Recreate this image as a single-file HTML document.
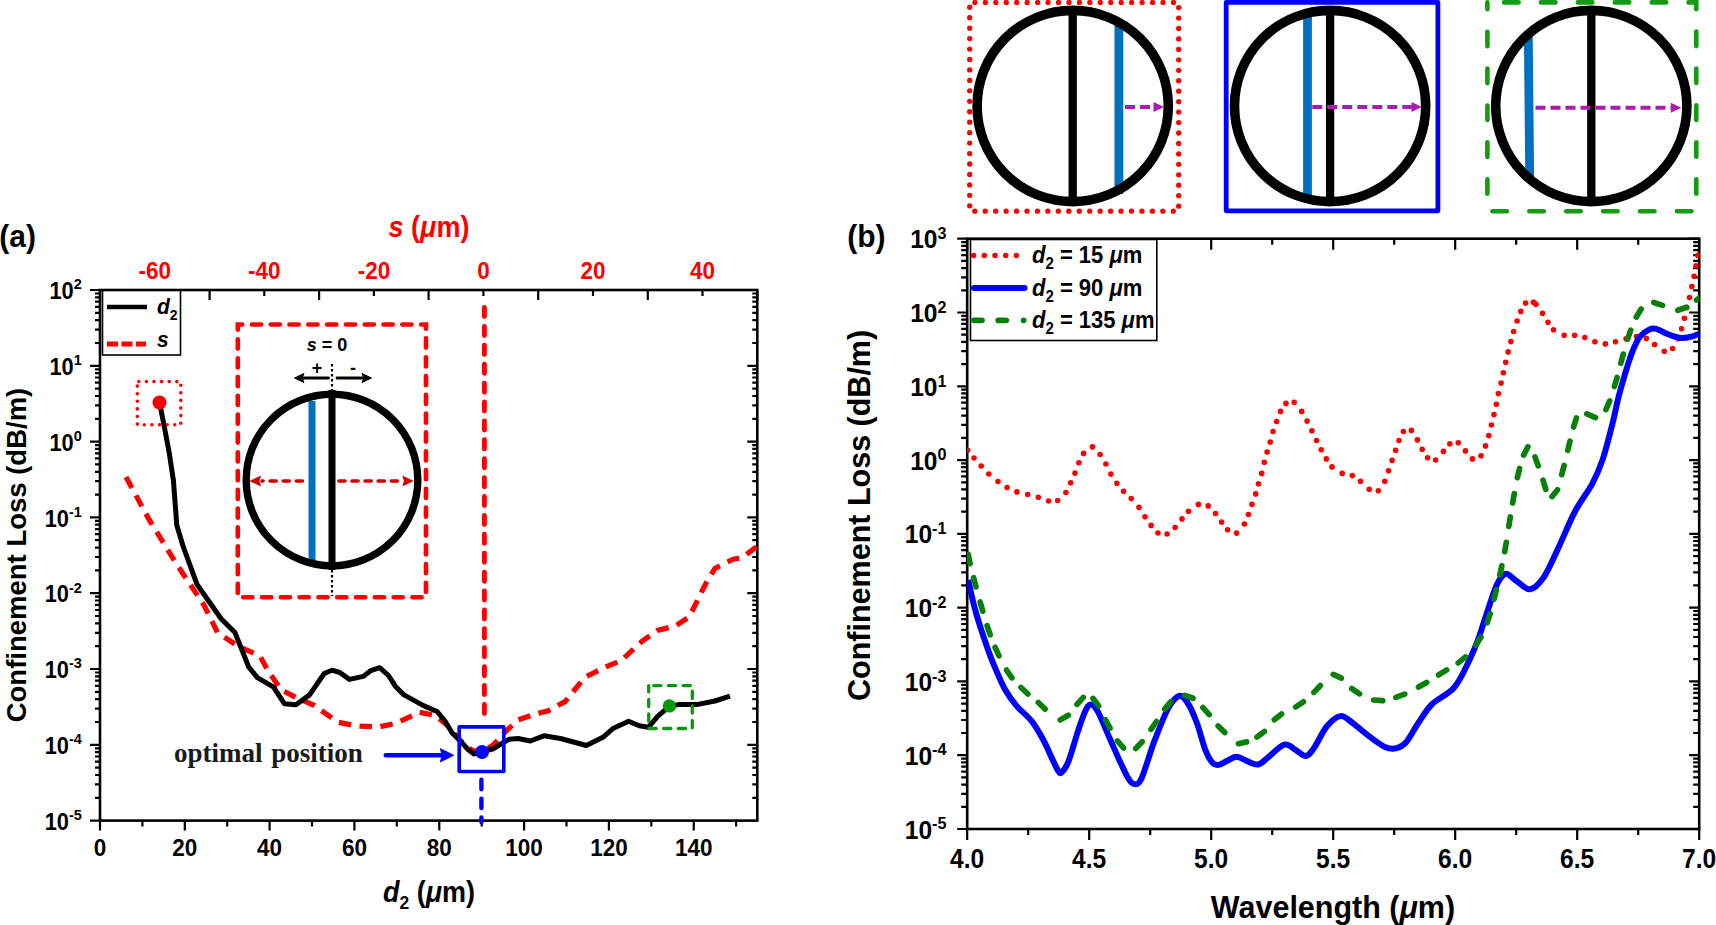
<!DOCTYPE html>
<html><head><meta charset="utf-8"><title>Confinement loss figure</title>
<style>html,body{margin:0;padding:0;background:#fff;width:1716px;height:925px;overflow:hidden}svg{display:block}</style>
</head><body>
<svg width="1716" height="925" viewBox="0 0 1716 925"><rect x="100" y="290" width="657.3" height="530.6" fill="none" stroke="#000" stroke-width="2.6"/>
<path d="M90,290 H100 M95,343 H100 M95,329.6 H100 M95,320.2 H100 M95,312.8 H100 M95,306.8 H100 M95,301.7 H100 M95,297.3 H100 M95,293.5 H100 M90,365.8 H100 M95,418.8 H100 M95,405.4 H100 M95,396 H100 M95,388.6 H100 M95,382.6 H100 M95,377.5 H100 M95,373.1 H100 M95,369.3 H100 M90,441.6 H100 M95,494.6 H100 M95,481.2 H100 M95,471.8 H100 M95,464.4 H100 M95,458.4 H100 M95,453.3 H100 M95,448.9 H100 M95,445.1 H100 M90,517.4 H100 M95,570.4 H100 M95,557 H100 M95,547.6 H100 M95,540.2 H100 M95,534.2 H100 M95,529.1 H100 M95,524.7 H100 M95,520.9 H100 M90,593.2 H100 M95,646.2 H100 M95,632.8 H100 M95,623.4 H100 M95,616 H100 M95,610 H100 M95,604.9 H100 M95,600.5 H100 M95,596.7 H100 M90,669 H100 M95,722 H100 M95,708.6 H100 M95,699.2 H100 M95,691.8 H100 M95,685.8 H100 M95,680.7 H100 M95,676.3 H100 M95,672.5 H100 M90,744.8 H100 M95,797.8 H100 M95,784.4 H100 M95,775 H100 M95,767.6 H100 M95,761.6 H100 M95,756.5 H100 M95,752.1 H100 M95,748.3 H100 M90,820.6 H100 M747.3,290 H757.3 M752.3,343 H757.3 M752.3,329.6 H757.3 M752.3,320.2 H757.3 M752.3,312.8 H757.3 M752.3,306.8 H757.3 M752.3,301.7 H757.3 M752.3,297.3 H757.3 M752.3,293.5 H757.3 M747.3,365.8 H757.3 M752.3,418.8 H757.3 M752.3,405.4 H757.3 M752.3,396 H757.3 M752.3,388.6 H757.3 M752.3,382.6 H757.3 M752.3,377.5 H757.3 M752.3,373.1 H757.3 M752.3,369.3 H757.3 M747.3,441.6 H757.3 M752.3,494.6 H757.3 M752.3,481.2 H757.3 M752.3,471.8 H757.3 M752.3,464.4 H757.3 M752.3,458.4 H757.3 M752.3,453.3 H757.3 M752.3,448.9 H757.3 M752.3,445.1 H757.3 M747.3,517.4 H757.3 M752.3,570.4 H757.3 M752.3,557 H757.3 M752.3,547.6 H757.3 M752.3,540.2 H757.3 M752.3,534.2 H757.3 M752.3,529.1 H757.3 M752.3,524.7 H757.3 M752.3,520.9 H757.3 M747.3,593.2 H757.3 M752.3,646.2 H757.3 M752.3,632.8 H757.3 M752.3,623.4 H757.3 M752.3,616 H757.3 M752.3,610 H757.3 M752.3,604.9 H757.3 M752.3,600.5 H757.3 M752.3,596.7 H757.3 M747.3,669 H757.3 M752.3,722 H757.3 M752.3,708.6 H757.3 M752.3,699.2 H757.3 M752.3,691.8 H757.3 M752.3,685.8 H757.3 M752.3,680.7 H757.3 M752.3,676.3 H757.3 M752.3,672.5 H757.3 M747.3,744.8 H757.3 M752.3,797.8 H757.3 M752.3,784.4 H757.3 M752.3,775 H757.3 M752.3,767.6 H757.3 M752.3,761.6 H757.3 M752.3,756.5 H757.3 M752.3,752.1 H757.3 M752.3,748.3 H757.3 M100,820.6 V830.6 M142.4,820.6 V826.6 M184.8,820.6 V830.6 M227.2,820.6 V826.6 M269.6,820.6 V830.6 M312,820.6 V826.6 M354.4,820.6 V830.6 M396.8,820.6 V826.6 M439.3,820.6 V830.6 M481.7,820.6 V826.6 M524.1,820.6 V830.6 M566.5,820.6 V826.6 M608.9,820.6 V830.6 M651.3,820.6 V826.6 M693.7,820.6 V830.6 M736.1,820.6 V826.6 M100,290 V300 M154.8,290 V296 M209.6,290 V300 M264.3,290 V296 M319.1,290 V300 M373.9,290 V296 M428.6,290 V300 M483.4,290 V296 M538.2,290 V300 M593,290 V296 M647.8,290 V300 M702.5,290 V296 M757.3,290 V300" stroke="#000" stroke-width="2.2" fill="none"/>
<text transform="translate(81.8,299.1) scale(1,1.07)" font-family="Liberation Sans, sans-serif" font-weight="bold" font-size="21.8" text-anchor="end">10<tspan font-size="14.5" dy="-9">2</tspan></text>
<text transform="translate(81.8,374.9) scale(1,1.07)" font-family="Liberation Sans, sans-serif" font-weight="bold" font-size="21.8" text-anchor="end">10<tspan font-size="14.5" dy="-9">1</tspan></text>
<text transform="translate(81.8,450.7) scale(1,1.07)" font-family="Liberation Sans, sans-serif" font-weight="bold" font-size="21.8" text-anchor="end">10<tspan font-size="14.5" dy="-9">0</tspan></text>
<text transform="translate(81.8,526.5) scale(1,1.07)" font-family="Liberation Sans, sans-serif" font-weight="bold" font-size="21.8" text-anchor="end">10<tspan font-size="14.5" dy="-9">-1</tspan></text>
<text transform="translate(81.8,602.3) scale(1,1.07)" font-family="Liberation Sans, sans-serif" font-weight="bold" font-size="21.8" text-anchor="end">10<tspan font-size="14.5" dy="-9">-2</tspan></text>
<text transform="translate(81.8,678.1) scale(1,1.07)" font-family="Liberation Sans, sans-serif" font-weight="bold" font-size="21.8" text-anchor="end">10<tspan font-size="14.5" dy="-9">-3</tspan></text>
<text transform="translate(81.8,753.9) scale(1,1.07)" font-family="Liberation Sans, sans-serif" font-weight="bold" font-size="21.8" text-anchor="end">10<tspan font-size="14.5" dy="-9">-4</tspan></text>
<text transform="translate(81.8,829.7) scale(1,1.07)" font-family="Liberation Sans, sans-serif" font-weight="bold" font-size="21.8" text-anchor="end">10<tspan font-size="14.5" dy="-9">-5</tspan></text>
<text transform="translate(100,856.2) scale(1,1.07)" font-family="Liberation Sans, sans-serif" font-weight="bold" font-size="22.5" text-anchor="middle">0</text>
<text transform="translate(184.8,856.2) scale(1,1.07)" font-family="Liberation Sans, sans-serif" font-weight="bold" font-size="22.5" text-anchor="middle">20</text>
<text transform="translate(269.6,856.2) scale(1,1.07)" font-family="Liberation Sans, sans-serif" font-weight="bold" font-size="22.5" text-anchor="middle">40</text>
<text transform="translate(354.4,856.2) scale(1,1.07)" font-family="Liberation Sans, sans-serif" font-weight="bold" font-size="22.5" text-anchor="middle">60</text>
<text transform="translate(439.3,856.2) scale(1,1.07)" font-family="Liberation Sans, sans-serif" font-weight="bold" font-size="22.5" text-anchor="middle">80</text>
<text transform="translate(524.1,856.2) scale(1,1.07)" font-family="Liberation Sans, sans-serif" font-weight="bold" font-size="22.5" text-anchor="middle">100</text>
<text transform="translate(608.9,856.2) scale(1,1.07)" font-family="Liberation Sans, sans-serif" font-weight="bold" font-size="22.5" text-anchor="middle">120</text>
<text transform="translate(693.7,856.2) scale(1,1.07)" font-family="Liberation Sans, sans-serif" font-weight="bold" font-size="22.5" text-anchor="middle">140</text>
<text transform="translate(154.8,279.2) scale(1,1.07)" font-family="Liberation Sans, sans-serif" font-weight="bold" font-size="22.5" text-anchor="middle" fill="#f00">-60</text>
<text transform="translate(264.3,279.2) scale(1,1.07)" font-family="Liberation Sans, sans-serif" font-weight="bold" font-size="22.5" text-anchor="middle" fill="#f00">-40</text>
<text transform="translate(373.9,279.2) scale(1,1.07)" font-family="Liberation Sans, sans-serif" font-weight="bold" font-size="22.5" text-anchor="middle" fill="#f00">-20</text>
<text transform="translate(483.4,279.2) scale(1,1.07)" font-family="Liberation Sans, sans-serif" font-weight="bold" font-size="22.5" text-anchor="middle" fill="#f00">0</text>
<text transform="translate(593,279.2) scale(1,1.07)" font-family="Liberation Sans, sans-serif" font-weight="bold" font-size="22.5" text-anchor="middle" fill="#f00">20</text>
<text transform="translate(702.5,279.2) scale(1,1.07)" font-family="Liberation Sans, sans-serif" font-weight="bold" font-size="22.5" text-anchor="middle" fill="#f00">40</text>
<text transform="translate(36,246.5) scale(1,1.07)" font-family="Liberation Sans, sans-serif" font-weight="bold" font-size="30" text-anchor="end">(a)</text>
<text transform="translate(429,237) scale(1,1.07)" font-family="Liberation Sans, sans-serif" font-weight="bold" font-size="27" text-anchor="middle" fill="#f00"><tspan font-style="italic">s</tspan> (<tspan font-style="italic">&#956;</tspan>m)</text>
<text transform="translate(429,902) scale(1,1.07)" font-family="Liberation Sans, sans-serif" font-weight="bold" font-size="27" text-anchor="middle"><tspan font-style="italic">d</tspan><tspan font-size="17.5" dy="6.5">2</tspan><tspan dy="-6.5"> (</tspan><tspan font-style="italic">&#956;</tspan>m)</text>
<text transform="translate(26,555) rotate(-90)" font-family="Liberation Sans, sans-serif" font-weight="bold" font-size="27.5" text-anchor="middle">Confinement Loss (dB/m)</text>
<defs><clipPath id="ca"><rect x="100" y="290" width="657.3" height="530.6"/></clipPath><clipPath id="cb"><rect x="967" y="238" width="732" height="591"/></clipPath></defs>
<g clip-path="url(#ca)">
<path d="M126,476.9 L148.4,518.4 L176.1,563.4 L203.8,604.9 L217.6,632.6 L238.4,646.4 L260,656 L267.8,670.6 L281.4,690.1 L297,697.9 L314.5,705.6 L337.9,722.2 L357.3,726.1 L378.7,727 L396.2,723.2 L419.6,712.4 L435.2,715.4 L446.8,725.1 L460.5,740.7 L472.1,750.4 L481.9,752.3 L493.6,744.6 L505.2,731.9 L518.2,719.8 L536.3,713.7 L548.4,710.7 L565.1,701.6 L584.7,677.4 L605.9,666.8 L621.1,660.7 L642.3,641.1 L657.4,630.5 L675.5,625.9 L689.2,616.9 L705.8,583.6 L714.9,568.4 L733,559.3 L742.1,557.8 L760,544.2" stroke="#f00" stroke-width="5.2" fill="none" stroke-dasharray="12.5 8.5"/>
<path d="M159.5,402.5 L164,425 L169.2,452.7 L173.4,480.3 L176.8,525.3 L183,546 L196.9,584.2 L221.1,618.8 L235,632.6 L248.8,667.2 L257.4,677.6 L273.6,687.1 L284.3,703.7 L296,704.7 L309.6,694.9 L324.2,673.5 L332,670.2 L339.8,672.5 L349.5,679.4 L363.2,676.4 L370.9,670.6 L379.7,667.7 L388.5,675.5 L395.3,686.2 L404,694.9 L423.5,705.6 L437.1,711.5 L445,721 L452.2,733 L461,741.7 L468,749.5 L474,754 L481.5,751.5 L492.7,749 L508.9,739.3 L518.2,738.5 L530.3,741 L543.9,735.8 L560.5,738.5 L586.3,745.5 L602.9,737.3 L613.5,728.2 L628.6,721.3 L639.2,725.8 L648.3,727.3 L657.4,716.7 L669.5,706.1 L678.6,704.6 L696.7,704.6 L714.9,701 L730,696.2" stroke="#000" stroke-width="5" fill="none" stroke-linejoin="round"/>
</g>
<path d="M484.4,307.5 V716" stroke="#f00" stroke-width="4.9" stroke-dasharray="9.1 9.8" stroke-linecap="round"/>
<path d="M481.4,779.8 V822" stroke="#00f" stroke-width="4.4" stroke-dasharray="9.5 9.3" stroke-linecap="round"/>
<circle cx="159.5" cy="402.5" r="7" fill="#f00"/>
<rect x="137.3" y="381.6" width="43.5" height="43.1" fill="none" stroke="#f00" stroke-width="3.6" stroke-dasharray="0 7.6" stroke-dashoffset="-1.5" stroke-linecap="round"/>
<circle cx="482" cy="752" r="7" fill="#00f"/>
<rect x="459.2" y="726.9" width="44.6" height="44.6" fill="none" stroke="#00f" stroke-width="3.6" stroke-linejoin="round"/>
<circle cx="669.4" cy="705.9" r="6.7" fill="#0c980c"/>
<rect x="648.7" y="685.6" width="43.6" height="42.9" fill="none" stroke="#0c980c" stroke-width="3.3" stroke-dasharray="7.3 7.4" stroke-dashoffset="-5" stroke-linecap="round"/>
<path d="M385.8,755.3 H443" stroke="#00f" stroke-width="4.5" stroke-linecap="round"/>
<path d="M453.8,755.3 L440.3,748.6 L442,755.3 L440.3,762 Z" fill="#00f" stroke="#00f" stroke-width="0.8" stroke-linejoin="round"/>
<text transform="translate(174,762.2)" font-family="Liberation Serif, serif" font-weight="bold" font-size="27" fill="#1a1a1a" word-spacing="2">optimal position</text>
<rect x="102.5" y="290.5" width="78" height="64.5" fill="#fff" stroke="#000" stroke-width="1.6"/>
<path d="M107,307 H147" stroke="#000" stroke-width="4.5"/>
<path d="M107,344 H146" stroke="#f00" stroke-width="5" stroke-dasharray="11 3.5"/>
<text transform="translate(157,314) scale(1,1.07)" font-family="Liberation Sans, sans-serif" font-weight="bold" font-size="21"><tspan font-style="italic">d</tspan><tspan font-size="14" dy="6">2</tspan></text>
<text transform="translate(157,347) scale(1,1.07)" font-family="Liberation Sans, sans-serif" font-weight="bold" font-size="21" font-style="italic">s</text>
<rect x="237.8" y="324.5" width="188.2" height="272.7" fill="none" stroke="#f00" stroke-width="4.6" stroke-dasharray="9.2 9.6" stroke-dashoffset="4.7" stroke-linecap="round"/>
<path d="M312,401 V560" stroke="#0070c0" stroke-width="7"/>
<path d="M332,390 V570" stroke="#000" stroke-width="7"/>
<circle cx="332" cy="480" r="85.8" fill="none" stroke="#000" stroke-width="7.4"/>
<path d="M332,364 V391 M332,570 V596" stroke="#000" stroke-width="2.2" stroke-dasharray="2.5 2.5"/>
<text transform="translate(327,351) scale(1,1.07)" font-family="Liberation Sans, sans-serif" font-weight="bold" font-size="18" text-anchor="middle"><tspan font-style="italic">s</tspan> = 0</text>
<text transform="translate(317,374) scale(1,1.07)" font-family="Liberation Sans, sans-serif" font-weight="bold" font-size="18" text-anchor="middle">+</text>
<text transform="translate(353,374) scale(1,1.07)" font-family="Liberation Sans, sans-serif" font-weight="bold" font-size="18" text-anchor="middle">-</text>
<path d="M328.5,378 H300 M337,378 H366" stroke="#000" stroke-width="2.8" stroke-linecap="round"/>
<path d="M294.5,378 L304,373.5 L302,378 L304,382.5 Z M371.5,378 L362,373.5 L364,378 L362,382.5 Z" fill="#000" stroke="#000" stroke-width="1" stroke-linejoin="round"/>
<path d="M302.4,481 H262 M338.9,481 H402" stroke="#cc0000" stroke-width="3.6" stroke-dasharray="6.1 7" stroke-linecap="round"/>
<path d="M250.3,481 L260.5,476.2 L259,481 L260.5,485.8 Z M412.9,481 L402.9,476.2 L404.4,481 L402.9,485.8 Z" fill="#cc0000" stroke="#cc0000" stroke-width="0.8" stroke-linejoin="round"/>
<rect x="967.2" y="238.7" width="732" height="590.3" fill="none" stroke="#000" stroke-width="2.6"/>
<path d="M957.2,238.7 H967.2 M1689.2,238.7 H1699.2 M961.2,290.3 H967.2 M1693.2,290.3 H1699.2 M961.2,277.3 H967.2 M1693.2,277.3 H1699.2 M961.2,268.1 H967.2 M1693.2,268.1 H1699.2 M961.2,260.9 H967.2 M1693.2,260.9 H1699.2 M961.2,255.1 H967.2 M1693.2,255.1 H1699.2 M961.2,250.1 H967.2 M1693.2,250.1 H1699.2 M961.2,245.9 H967.2 M1693.2,245.9 H1699.2 M961.2,242.1 H967.2 M1693.2,242.1 H1699.2 M957.2,312.5 H967.2 M1689.2,312.5 H1699.2 M961.2,364.1 H967.2 M1693.2,364.1 H1699.2 M961.2,351.1 H967.2 M1693.2,351.1 H1699.2 M961.2,341.9 H967.2 M1693.2,341.9 H1699.2 M961.2,334.7 H967.2 M1693.2,334.7 H1699.2 M961.2,328.9 H967.2 M1693.2,328.9 H1699.2 M961.2,323.9 H967.2 M1693.2,323.9 H1699.2 M961.2,319.6 H967.2 M1693.2,319.6 H1699.2 M961.2,315.9 H967.2 M1693.2,315.9 H1699.2 M957.2,386.3 H967.2 M1689.2,386.3 H1699.2 M961.2,437.9 H967.2 M1693.2,437.9 H1699.2 M961.2,424.9 H967.2 M1693.2,424.9 H1699.2 M961.2,415.6 H967.2 M1693.2,415.6 H1699.2 M961.2,408.5 H967.2 M1693.2,408.5 H1699.2 M961.2,402.6 H967.2 M1693.2,402.6 H1699.2 M961.2,397.7 H967.2 M1693.2,397.7 H1699.2 M961.2,393.4 H967.2 M1693.2,393.4 H1699.2 M961.2,389.7 H967.2 M1693.2,389.7 H1699.2 M957.2,460.1 H967.2 M1689.2,460.1 H1699.2 M961.2,511.6 H967.2 M1693.2,511.6 H1699.2 M961.2,498.6 H967.2 M1693.2,498.6 H1699.2 M961.2,489.4 H967.2 M1693.2,489.4 H1699.2 M961.2,482.3 H967.2 M1693.2,482.3 H1699.2 M961.2,476.4 H967.2 M1693.2,476.4 H1699.2 M961.2,471.5 H967.2 M1693.2,471.5 H1699.2 M961.2,467.2 H967.2 M1693.2,467.2 H1699.2 M961.2,463.4 H967.2 M1693.2,463.4 H1699.2 M957.2,533.8 H967.2 M1689.2,533.8 H1699.2 M961.2,585.4 H967.2 M1693.2,585.4 H1699.2 M961.2,572.4 H967.2 M1693.2,572.4 H1699.2 M961.2,563.2 H967.2 M1693.2,563.2 H1699.2 M961.2,556.1 H967.2 M1693.2,556.1 H1699.2 M961.2,550.2 H967.2 M1693.2,550.2 H1699.2 M961.2,545.3 H967.2 M1693.2,545.3 H1699.2 M961.2,541 H967.2 M1693.2,541 H1699.2 M961.2,537.2 H967.2 M1693.2,537.2 H1699.2 M957.2,607.6 H967.2 M1689.2,607.6 H1699.2 M961.2,659.2 H967.2 M1693.2,659.2 H1699.2 M961.2,646.2 H967.2 M1693.2,646.2 H1699.2 M961.2,637 H967.2 M1693.2,637 H1699.2 M961.2,629.8 H967.2 M1693.2,629.8 H1699.2 M961.2,624 H967.2 M1693.2,624 H1699.2 M961.2,619.1 H967.2 M1693.2,619.1 H1699.2 M961.2,614.8 H967.2 M1693.2,614.8 H1699.2 M961.2,611 H967.2 M1693.2,611 H1699.2 M957.2,681.4 H967.2 M1689.2,681.4 H1699.2 M961.2,733 H967.2 M1693.2,733 H1699.2 M961.2,720 H967.2 M1693.2,720 H1699.2 M961.2,710.8 H967.2 M1693.2,710.8 H1699.2 M961.2,703.6 H967.2 M1693.2,703.6 H1699.2 M961.2,697.8 H967.2 M1693.2,697.8 H1699.2 M961.2,692.9 H967.2 M1693.2,692.9 H1699.2 M961.2,688.6 H967.2 M1693.2,688.6 H1699.2 M961.2,684.8 H967.2 M1693.2,684.8 H1699.2 M957.2,755.2 H967.2 M1689.2,755.2 H1699.2 M961.2,806.8 H967.2 M1693.2,806.8 H1699.2 M961.2,793.8 H967.2 M1693.2,793.8 H1699.2 M961.2,784.6 H967.2 M1693.2,784.6 H1699.2 M961.2,777.4 H967.2 M1693.2,777.4 H1699.2 M961.2,771.6 H967.2 M1693.2,771.6 H1699.2 M961.2,766.6 H967.2 M1693.2,766.6 H1699.2 M961.2,762.4 H967.2 M1693.2,762.4 H1699.2 M961.2,758.6 H967.2 M1693.2,758.6 H1699.2 M957.2,829 H967.2 M967.2,829 V840 M967.2,238.7 V249.7 M1028.2,829 V835 M1028.2,238.7 V244.7 M1089.2,829 V840 M1089.2,238.7 V249.7 M1150.2,829 V835 M1150.2,238.7 V244.7 M1211.2,829 V840 M1211.2,238.7 V249.7 M1272.2,829 V835 M1272.2,238.7 V244.7 M1333.2,829 V840 M1333.2,238.7 V249.7 M1394.2,829 V835 M1394.2,238.7 V244.7 M1455.2,829 V840 M1455.2,238.7 V249.7 M1516.2,829 V835 M1516.2,238.7 V244.7 M1577.2,829 V840 M1577.2,238.7 V249.7 M1638.2,829 V835 M1638.2,238.7 V244.7 M1699.2,829 V840 M1699.2,238.7 V249.7" stroke="#000" stroke-width="2.2" fill="none"/>
<text transform="translate(946.5,248.3) scale(1,1.04)" font-family="Liberation Sans, sans-serif" font-weight="bold" font-size="24.6" text-anchor="end">10<tspan font-size="16.2" dy="-9">3</tspan></text>
<text transform="translate(946.5,322.1) scale(1,1.04)" font-family="Liberation Sans, sans-serif" font-weight="bold" font-size="24.6" text-anchor="end">10<tspan font-size="16.2" dy="-9">2</tspan></text>
<text transform="translate(946.5,395.9) scale(1,1.04)" font-family="Liberation Sans, sans-serif" font-weight="bold" font-size="24.6" text-anchor="end">10<tspan font-size="16.2" dy="-9">1</tspan></text>
<text transform="translate(946.5,469.7) scale(1,1.04)" font-family="Liberation Sans, sans-serif" font-weight="bold" font-size="24.6" text-anchor="end">10<tspan font-size="16.2" dy="-9">0</tspan></text>
<text transform="translate(946.5,543.4) scale(1,1.04)" font-family="Liberation Sans, sans-serif" font-weight="bold" font-size="24.6" text-anchor="end">10<tspan font-size="16.2" dy="-9">-1</tspan></text>
<text transform="translate(946.5,617.2) scale(1,1.04)" font-family="Liberation Sans, sans-serif" font-weight="bold" font-size="24.6" text-anchor="end">10<tspan font-size="16.2" dy="-9">-2</tspan></text>
<text transform="translate(946.5,691) scale(1,1.04)" font-family="Liberation Sans, sans-serif" font-weight="bold" font-size="24.6" text-anchor="end">10<tspan font-size="16.2" dy="-9">-3</tspan></text>
<text transform="translate(946.5,764.8) scale(1,1.04)" font-family="Liberation Sans, sans-serif" font-weight="bold" font-size="24.6" text-anchor="end">10<tspan font-size="16.2" dy="-9">-4</tspan></text>
<text transform="translate(946.5,838.6) scale(1,1.04)" font-family="Liberation Sans, sans-serif" font-weight="bold" font-size="24.6" text-anchor="end">10<tspan font-size="16.2" dy="-9">-5</tspan></text>
<text transform="translate(967.2,868.3) scale(1,1.09)" font-family="Liberation Sans, sans-serif" font-weight="bold" font-size="24.6" text-anchor="middle">4.0</text>
<text transform="translate(1089.2,868.3) scale(1,1.09)" font-family="Liberation Sans, sans-serif" font-weight="bold" font-size="24.6" text-anchor="middle">4.5</text>
<text transform="translate(1211.2,868.3) scale(1,1.09)" font-family="Liberation Sans, sans-serif" font-weight="bold" font-size="24.6" text-anchor="middle">5.0</text>
<text transform="translate(1333.2,868.3) scale(1,1.09)" font-family="Liberation Sans, sans-serif" font-weight="bold" font-size="24.6" text-anchor="middle">5.5</text>
<text transform="translate(1455.2,868.3) scale(1,1.09)" font-family="Liberation Sans, sans-serif" font-weight="bold" font-size="24.6" text-anchor="middle">6.0</text>
<text transform="translate(1577.2,868.3) scale(1,1.09)" font-family="Liberation Sans, sans-serif" font-weight="bold" font-size="24.6" text-anchor="middle">6.5</text>
<text transform="translate(1699.2,868.3) scale(1,1.09)" font-family="Liberation Sans, sans-serif" font-weight="bold" font-size="24.6" text-anchor="middle">7.0</text>
<text transform="translate(885.5,246.5) scale(1,1.07)" font-family="Liberation Sans, sans-serif" font-weight="bold" font-size="30" text-anchor="end">(b)</text>
<text transform="translate(1333,917.5) scale(1,1.03)" font-family="Liberation Sans, sans-serif" font-weight="bold" font-size="30.5" text-anchor="middle">Wavelength (<tspan font-style="italic">&#956;</tspan>m)</text>
<text transform="translate(870,515.4) rotate(-90)" font-family="Liberation Sans, sans-serif" font-weight="bold" font-size="30.5" text-anchor="middle">Confinement Loss (dB/m)</text>
<g clip-path="url(#cb)">
<path d="M967.6,450.2 h0 M974,458 h0 M981.2,466 h0 M988.8,474 h0 M998,481.5 h0 M1007.1,487.5 h0 M1016.9,491.9 h0 M1027.7,494.5 h0 M1038.3,497.3 h0 M1048.6,501 h0 M1057.7,500.5 h0 M1065.9,492.5 h0 M1070.7,482.8 h0 M1075,473.1 h0 M1078.9,462.7 h0 M1083.6,453.4 h0 M1092.5,446.9 h0 M1100.1,454.5 h0 M1105.9,464 h0 M1110.9,474.1 h0 M1116.9,483.2 h0 M1123.6,491.2 h0 M1131.2,498.6 h0 M1139,507.4 h0 M1145,516.7 h0 M1151.1,525.4 h0 M1158,533 h0 M1167.1,534 h0 M1175.1,527.5 h0 M1182,518.9 h0 M1188.5,511.3 h0 M1198.4,504.4 h0 M1208.2,505.9 h0 M1215.5,513.5 h0 M1221.6,522.1 h0 M1227.6,529.7 h0 M1236.6,533.1 h0 M1244.4,524 h0 M1248.5,514.5 h0 M1252,504.3 h0 M1255.7,493.9 h0 M1258.5,483.8 h0 M1261.7,473.4 h0 M1264.3,462.2 h0 M1267.1,452 h0 M1270.2,442.1 h0 M1273,431.5 h0 M1276.6,421.5 h0 M1280.5,411.4 h0 M1285.9,403.4 h0 M1294.2,402.3 h0 M1301.7,411.4 h0 M1307.1,421.1 h0 M1311.9,430.8 h0 M1316.6,440.5 h0 M1321.2,449.8 h0 M1326.4,458.9 h0 M1332,466.9 h0 M1342.2,473.4 h0 M1352.3,475.6 h0 M1360.5,481.2 h0 M1369.2,489.2 h0 M1378.3,490.7 h0 M1384.8,481.2 h0 M1388.6,470.8 h0 M1392.1,460.4 h0 M1395.6,450.3 h0 M1399,440.5 h0 M1403.4,431.5 h0 M1411.4,430.4 h0 M1417.4,439.9 h0 M1422.2,449.2 h0 M1427.6,457.8 h0 M1435.6,460 h0 M1443.4,451.4 h0 M1449.8,443.8 h0 M1458.3,442.7 h0 M1465.4,450.9 h0 M1472.5,458.9 h0 M1481,455.7 h0 M1485.5,445.9 h0 M1488.8,435.6 h0 M1491.4,425 h0 M1494,414.6 h0 M1496.3,404.2 h0 M1498.4,393.6 h0 M1501.1,383.1 h0 M1503.3,372.8 h0 M1505.7,362.3 h0 M1508.1,351.9 h0 M1510.9,341.6 h0 M1513.6,331.5 h0 M1517.1,321 h0 M1520.8,311.4 h0 M1525.6,303.1 h0 M1533.3,302.2 h0 M1542.5,313.3 h0 M1548,322.3 h0 M1553.5,329.8 h0 M1564.2,335.3 h0 M1574.7,335.3 h0 M1584.8,337.5 h0 M1594.9,341.7 h0 M1605.3,343.9 h0 M1615.5,341.7 h0 M1626.1,338.8 h0 M1636.6,336.6 h0 M1646.3,338.4 h0 M1654.6,344.5 h0 M1664.3,351.3 h0 M1672.6,348.5 h0 M1678.1,338.8 h0 M1681.6,328.7 h0 M1684.4,318.2 h0 M1686.8,307.6 h0 M1689.5,297.5 h0 M1691.9,286.6 h0 M1694.1,276.3 h0 M1696,265.8 h0 M1697.8,255.2 h0 M1534,302.5 L1536,304.3" stroke="#f00" stroke-width="5.6" fill="none" stroke-linecap="round"/>
<path d="M968.3,580 C969.3,584.4 971.7,597 974.3,606.6 C976.9,616.2 980.6,628 983.8,637.5 C987,647 989.7,654.9 993.3,663.6 C996.9,672.3 1001.2,682.7 1005.2,689.8 C1009.2,696.9 1012.6,701.2 1017,706.4 C1021.4,711.5 1026.9,715.2 1031.3,720.7 C1035.7,726.2 1039.6,733.2 1043.2,739.7 C1046.8,746.2 1050.2,754.8 1052.7,759.9 C1055.2,765 1056.6,768.4 1058,770.5 C1059.4,772.6 1059.5,774.1 1061.2,772.7 C1062.9,771.3 1065.4,768.9 1068.2,762 C1071,755.1 1075.2,739.5 1078,731.1 C1080.8,722.7 1083,715.9 1085.1,711.4 C1087.2,706.9 1088.6,704.4 1090.7,704.4 C1092.8,704.4 1094.7,706 1097.7,711.4 C1100.8,716.8 1105.2,728.3 1109,736.7 C1112.8,745.1 1116.9,755 1120.2,762 C1123.5,769 1126.2,775.2 1128.6,778.9 C1130.9,782.6 1132.2,784 1134.3,784 C1136.4,784 1138,785.8 1141.3,778.9 C1144.6,772 1149.5,754.1 1153.9,742.4 C1158.4,730.7 1163.8,716.3 1168,708.6 C1172.2,700.9 1175.9,696.9 1179.2,696 C1182.5,695.1 1184.8,698.5 1187.7,703 C1190.7,707.5 1193.9,715 1196.9,723 C1199.9,731 1203,744.1 1205.6,750.7 C1208.2,757.3 1210.3,760.4 1212.5,762.8 C1214.7,765.2 1215.9,765.3 1218.5,764.9 C1221.1,764.5 1225.1,761.6 1228.1,760.2 C1231.1,758.9 1233.5,756.6 1236.7,756.8 C1239.9,756.9 1243.5,759.8 1247.1,761.1 C1250.7,762.4 1254.8,765.1 1258.3,764.5 C1261.8,763.9 1263.5,760.9 1267.8,757.6 C1272.1,754.3 1279.7,746 1284.3,744.7 C1288.9,743.4 1291.9,747.9 1295.5,749.8 C1299.1,751.7 1302.7,756.3 1305.9,755.9 C1309.1,755.5 1311,752.1 1314.5,747.2 C1318,742.3 1322.4,731.7 1326.7,726.5 C1331,721.3 1336.2,716.7 1340.5,716.1 C1344.8,715.5 1347.7,719.5 1352.6,723 C1357.5,726.5 1364.4,732.9 1369.9,736.9 C1375.4,740.9 1381,745.3 1385.5,747.2 C1390,749.1 1393.2,749 1396.7,748.1 C1400.2,747.2 1402.6,746.3 1406.2,742.1 C1409.8,737.9 1414,729.4 1418.3,723 C1422.6,716.6 1426.3,709.8 1432.2,704 C1438.1,698.2 1447.9,694.7 1453.8,688 C1459.7,681.3 1463.7,671.8 1467.7,663.7 C1471.8,655.6 1474.6,648.7 1478.1,639.5 C1481.5,630.3 1485.2,617.6 1488.4,608.4 C1491.6,599.2 1494.2,590 1497.1,584.2 C1500,578.4 1502.5,574.4 1505.7,573.8 C1508.9,573.2 1512,578.1 1516.1,580.7 C1520.1,583.3 1525.4,589.9 1530,589.3 C1534.6,588.7 1539.2,583.8 1543.8,577.2 C1548.4,570.6 1552.4,560.6 1557.6,549.6 C1562.8,538.6 1569.2,522.5 1575,511.5 C1580.8,500.5 1587.6,492.4 1592.2,483.8 C1596.8,475.2 1599.1,470 1602.6,459.6 C1606.1,449.2 1610.5,431.4 1613,421.5 C1615.5,411.6 1615.8,408 1617.8,400 C1619.8,392 1622.8,381.5 1625.2,373.4 C1627.7,365.3 1630,357.4 1632.5,351.3 C1635,345.2 1637.1,340.2 1639.9,336.6 C1642.7,333 1646.3,330.9 1649.1,329.6 C1651.8,328.3 1653.7,328.3 1656.4,328.9 C1659.2,329.5 1662.5,331.9 1665.6,333.2 C1668.7,334.5 1672,335.8 1674.8,336.6 C1677.6,337.4 1679.4,338.1 1682.2,338.1 C1685,338.1 1688.6,337.3 1691.4,336.6 C1694.2,335.9 1697.8,334.3 1699.1,333.8" stroke="#00f" stroke-width="6" fill="none" stroke-linejoin="round"/>
<path d="M968.2,554.3 L970.1,563.6 M973.6,577.7 L976,586.9 M980.1,602 L982.8,611.2 M987.1,625.7 L990.2,634.7 M995.1,647.3 L999,655.9 M1006.5,670.1 L1011.9,677.8 M1021,687.5 L1027.9,694 M1038.3,702.5 L1045.1,709.1 M1060.2,719.9 L1068.3,715.2 M1077,704.4 L1083.3,697.4 M1093.1,698.4 L1098.6,706 M1105.5,719.8 L1110,728.2 M1117.4,740.9 L1123.5,748 M1135.7,748.4 L1142.2,741.7 M1151,729.3 L1156.4,721.5 M1164.7,709.1 L1170.7,701.8 M1184.8,695.4 L1193,698.3 M1202.9,707.6 L1209.3,714.6 M1218.2,725.9 L1224.8,732.6 M1238.4,743.7 L1246.7,741.9 M1257,737.1 L1264.4,731.5 M1274.3,719.7 L1281.6,714 M1295.6,707 L1303.4,701.8 M1313.9,692.4 L1320.4,685.5 M1333.2,674.4 L1341.3,678.2 M1351.8,688.6 L1359.5,693.8 M1373.7,700 L1382.6,700.7 M1395.9,697.4 L1404.7,694.1 M1418.5,687.1 L1426.7,682.5 M1438.6,674.9 L1446.7,669.9 M1458.2,662.9 L1465.5,656.9 M1476,645 L1481,637.1 M1487.2,622.7 L1490.2,613.7 M1494.1,599 L1496.4,589.8 M1499.8,575.1 L1501.8,565.8 M1504.7,551.7 L1506.3,542.3 M1508.8,526.4 L1510.3,517 M1512.6,503 L1514.3,493.6 M1517.3,477.7 L1519.6,468.5 M1523.6,455.1 L1527.9,446.8 M1535,456.9 L1538.2,465.8 M1543,480.2 L1545.8,489.3 M1552,496.6 L1557.5,489.8 M1561.7,474.7 L1564.1,465.5 M1567.8,450.4 L1570,441.2 M1573.6,427 L1576.4,418 M1586.8,413.9 L1595.5,417.7 M1605.9,409.6 L1609.7,400.9 M1614.4,386.5 L1617.1,377.4 M1620.8,363.3 L1623.3,354.1 M1627.6,339.1 L1630.7,330.1 M1636.3,317.1 L1641.2,309.1 M1653.8,302.5 L1662.5,305.4 M1677.8,310.2 L1686.4,307.2 M1696.5,300 L1704.2,294.5" stroke="#0a800a" stroke-width="5.7" fill="none" stroke-linecap="round" stroke-linejoin="round"/>
</g>
<rect x="970.5" y="239.5" width="186.3" height="101" fill="#fff" stroke="#000" stroke-width="1.6"/>
<path d="M973.6,255.4 H1020" stroke="#f00" stroke-width="5.5" stroke-dasharray="0 10.7" stroke-linecap="round"/>
<path d="M974,288.1 H1024.5" stroke="#00f" stroke-width="6" stroke-linecap="round"/>
<path d="M974,320.3 H982 M998.2,320.3 H1006.3 M1023.6,320.3 H1023.7" stroke="#0a800a" stroke-width="5.7" stroke-linecap="round"/>
<text transform="translate(1032,263) scale(1,1.07)" font-family="Liberation Sans, sans-serif" font-weight="bold" font-size="22"><tspan font-style="italic">d</tspan><tspan font-size="15" dy="6">2</tspan><tspan dy="-6"> = 15 </tspan><tspan font-style="italic">&#956;</tspan>m</text>
<text transform="translate(1032,296) scale(1,1.07)" font-family="Liberation Sans, sans-serif" font-weight="bold" font-size="22"><tspan font-style="italic">d</tspan><tspan font-size="15" dy="6">2</tspan><tspan dy="-6"> = 90 </tspan><tspan font-style="italic">&#956;</tspan>m</text>
<text transform="translate(1032,328) scale(1,1.07)" font-family="Liberation Sans, sans-serif" font-weight="bold" font-size="22"><tspan font-style="italic">d</tspan><tspan font-size="15" dy="6">2</tspan><tspan dy="-6"> = 135 </tspan><tspan font-style="italic">&#956;</tspan>m</text>
<rect x="969.7" y="2.4" width="209" height="208.8" fill="none" stroke="#f00" stroke-width="5.3" stroke-dasharray="0 10.45" stroke-dashoffset="-5.2" stroke-linecap="round"/>
<path d="M1118.9,24 L1118.9,194" stroke="#0070c0" stroke-width="8.8"/>
<path d="M1072.7,9 V203" stroke="#000" stroke-width="8.3"/>
<circle cx="1072.7" cy="106" r="95.6" fill="none" stroke="#000" stroke-width="9.6"/>
<path d="M1125,107 H1155" stroke="#ab1cac" stroke-width="4" stroke-dasharray="10 5"/>
<path d="M1164,107 L1153.5,102 L1153.5,112 Z" fill="#ab1cac"/>
<rect x="1226.2" y="2.4" width="211.7" height="208.4" fill="none" stroke="#00f" stroke-width="4.8" stroke-linejoin="round"/>
<path d="M1307.5,16 L1307.5,196" stroke="#0070c0" stroke-width="8.8"/>
<path d="M1330.1,9 V203" stroke="#000" stroke-width="8.3"/>
<circle cx="1330.1" cy="106" r="95.6" fill="none" stroke="#000" stroke-width="9.6"/>
<path d="M1312.3,107 H1413" stroke="#ab1cac" stroke-width="4" stroke-dasharray="10 5"/>
<path d="M1422,107 L1411.5,102 L1411.5,112 Z" fill="#ab1cac"/>
<rect x="1487.4" y="2.4" width="208.9" height="208.8" fill="none" stroke="#149b14" stroke-width="4.6" stroke-dasharray="14.5 22.4" stroke-dashoffset="20.2" stroke-linecap="round"/>
<path d="M1528.3,35 L1529.7,177" stroke="#0070c0" stroke-width="8.8"/>
<path d="M1591.3,9 V203" stroke="#000" stroke-width="8.3"/>
<circle cx="1591.3" cy="106" r="95.6" fill="none" stroke="#000" stroke-width="9.6"/>
<path d="M1535.5,107.8 H1672.3" stroke="#ab1cac" stroke-width="4" stroke-dasharray="10 5"/>
<path d="M1681.3,107.8 L1670.8,102.8 L1670.8,112.8 Z" fill="#ab1cac"/></svg>
</body></html>
